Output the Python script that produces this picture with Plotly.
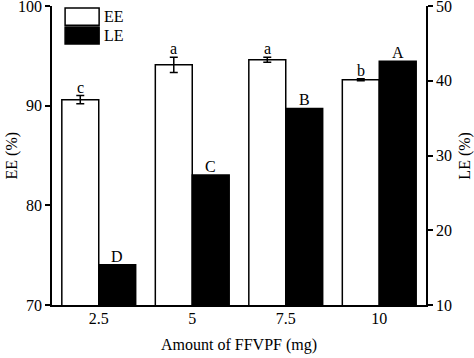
import plotly.graph_objects as go

categories = ["2.5", "5", "7.5", "10"]
ee_values = [90.6, 94.1, 94.6, 92.6]
ee_errors = [0.42, 0.77, 0.25, 0.1]
le_values = [15.4, 27.4, 36.3, 42.6]
ee_letters = ["c", "a", "a", "b"]
le_letters = ["D", "C", "B", "A"]

FONT = "Liberation Serif"
BLACK = "black"

fig = go.Figure()
fig.add_trace(go.Bar(
    x=categories, y=ee_values, name="EE", yaxis="y", offsetgroup="1",
    marker=dict(color="white", line=dict(color=BLACK, width=1.5)),
    error_y=dict(type="data", array=ee_errors, visible=True, color=BLACK, thickness=1.5, width=4),
    showlegend=False,
))
fig.add_trace(go.Bar(
    x=categories, y=le_values, name="LE", yaxis="y2", offsetgroup="2",
    marker=dict(color=BLACK, line=dict(color=BLACK, width=1.5)),
    showlegend=False,
))

annotations = []
for i, (v, e, t) in enumerate(zip(ee_values, ee_errors, ee_letters)):
    annotations.append(dict(x=i, y=v + e, xref="x", yref="y", text=t, showarrow=False,
                            xshift=-18.5, yanchor="bottom", yshift=-2,
                            font=dict(family=FONT, size=16, color=BLACK)))
for i, (v, t) in enumerate(zip(le_values, le_letters)):
    annotations.append(dict(x=i, y=v, xref="x", yref="y2", text=t, showarrow=False,
                            xshift=18.5, yanchor="bottom", yshift=-2,
                            font=dict(family=FONT, size=16, color=BLACK)))
# legend labels
annotations.append(dict(x=0.135, y=0.965, xref="paper", yref="paper", text="EE", showarrow=False,
                        xanchor="left", yanchor="middle", font=dict(family=FONT, size=16, color=BLACK)))
annotations.append(dict(x=0.135, y=0.90, xref="paper", yref="paper", text="LE", showarrow=False,
                        xanchor="left", yanchor="middle", font=dict(family=FONT, size=16, color=BLACK)))
# axis titles
annotations.append(dict(x=-0.107, y=0.5, xref="paper", yref="paper", text="EE (%)", showarrow=False,
                        textangle=-90, xanchor="center", yanchor="middle",
                        font=dict(family=FONT, size=16, color=BLACK)))
annotations.append(dict(x=1.102, y=0.5, xref="paper", yref="paper", text="LE (%)", showarrow=False,
                        textangle=-90, xanchor="center", yanchor="middle",
                        font=dict(family=FONT, size=16, color=BLACK)))
annotations.append(dict(x=0.5, y=-0.134, xref="paper", yref="paper", text="Amount of FFVPF (mg)",
                        showarrow=False, xanchor="center", yanchor="middle",
                        font=dict(family=FONT, size=16, color=BLACK)))

shapes = [
    dict(type="rect", xref="paper", yref="paper", x0=0.035, x1=0.126, y0=0.936, y1=0.993,
         fillcolor="white", line=dict(color=BLACK, width=1.5)),
    dict(type="rect", xref="paper", yref="paper", x0=0.035, x1=0.126, y0=0.873, y1=0.930,
         fillcolor=BLACK, line=dict(color=BLACK, width=1.5)),
]

fig.update_layout(
    width=474, height=358,
    margin=dict(l=52, r=48, t=6, b=53, autoexpand=False),
    paper_bgcolor="white", plot_bgcolor="white",
    barmode="group", bargap=0.21, bargroupgap=0,
    font=dict(family=FONT, size=16, color=BLACK),
    xaxis=dict(
        type="category", range=[-0.5, 3.5], showline=True, linecolor=BLACK, linewidth=1.5,
        ticks="", showgrid=False, zeroline=False, automargin=False, ticklabelstandoff=-2,
        tickfont=dict(family=FONT, size=16),
    ),
    yaxis=dict(
        range=[70, 100], tickvals=[70, 80, 90, 100], showline=True, linecolor=BLACK, linewidth=1.5,
        ticks="outside", ticklen=5, tickwidth=1.5, tickcolor=BLACK,
        showgrid=False, zeroline=False, automargin=False, ticklabeloverflow="allow",
        tickfont=dict(family=FONT, size=16),
    ),
    yaxis2=dict(
        range=[10, 50], tickvals=[10, 20, 30, 40, 50], overlaying="y", side="right",
        showline=True, linecolor=BLACK, linewidth=1.5,
        ticks="outside", ticklen=5, tickwidth=1.5, tickcolor=BLACK,
        showgrid=False, zeroline=False, automargin=False, ticklabeloverflow="allow",
        tickfont=dict(family=FONT, size=16),
    ),
    annotations=annotations,
    shapes=shapes,
)

fig.write_html("out.html", config={"displayModeBar": False},
               post_script="document.body.style.margin='0';document.body.style.overflow='hidden';")
